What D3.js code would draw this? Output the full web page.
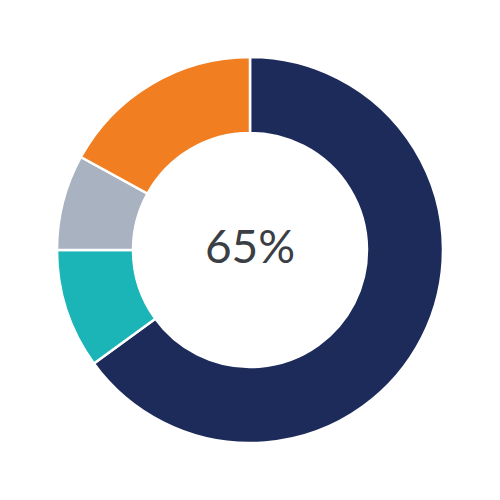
<!DOCTYPE html>
<html>
<head>
<meta charset="utf-8">
<script src="https://cdn.jsdelivr.net/npm/d3@7"></script>
<style>
  body { margin: 0; background: #fff; }
</style>
</head>
<body>
<div id="chart"></div>
<script>
// slices, clockwise from 12 o'clock
var categories = ["A", "B", "C", "D"]
var values = [65, 10, 8, 17]
var colors = ["#1c2b5a", "#1bb4b7", "#a8b2c0", "#f17f22"]
var centerLabel = "65%"

var width = 500, height = 500
var outer = 193, inner = 117

var svg = d3.select("#chart").append("svg")
    .attr("width", width)
    .attr("height", height)

var g = svg.append("g")
    .attr("transform", "translate(" + width/2 + "," + height/2 + ")")

var color = d3.scaleOrdinal().domain(categories).range(colors)

var pie = d3.pie().sort(null).value(function(d, i) { return values[i] })
var arc = d3.arc().innerRadius(inner).outerRadius(outer)

g.selectAll("path")
    .data(pie(categories))
    .enter()
    .append("path")
    .attr("d", arc)
    .style("fill", function(d) { return color(d.data) })
    .style("stroke", "#fff")
    .style("stroke-width", 2.5)

g.append("text")
    .attr("text-anchor", "middle")
    .attr("y", 13)
    .style("font-family", "Lato, sans-serif")
    .style("font-weight", 400)
    .style("font-size", "46px")
    .style("fill", "#3b3f45")
    .text(centerLabel)
</script>
</body>
</html>
